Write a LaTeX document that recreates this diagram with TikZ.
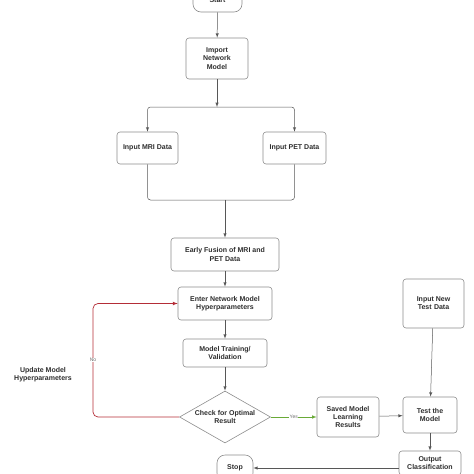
\documentclass[tikz,border=0pt]{standalone}
\usepackage{fontspec}
\setmainfont{Liberation Sans}
\usetikzlibrary{arrows,shapes.geometric}
\definecolor{boxline}{RGB}{140,140,140}
\definecolor{txt}{RGB}{45,45,45}
\definecolor{loopred}{RGB}{180,45,55}
\definecolor{yesgreen}{RGB}{105,170,55}

\begin{document}
\begin{tikzpicture}[x=1pt,y=-1pt]
\tikzstyle{every node}=[inner sep=1pt, font=\fontsize{7}{8.2}\selectfont\bfseries, text=txt]
\tikzstyle{box}=[draw=boxline, line width=0.6pt, rounded corners=3pt, align=center]
\tikzstyle{term}=[draw=boxline, line width=0.6pt, rounded corners=8pt]
\tikzstyle{arr}=[draw=txt!80, line width=0.5pt, -latex]
\tikzstyle{line}=[draw=txt!80, line width=0.5pt]
\useasboundingbox (0,0) rectangle (474,474);
\draw (217.5,0) node (start) [term, minimum width=49pt, minimum height=24pt] {Start};
\draw (217,58.5) node (import) [box, minimum width=62pt, minimum height=41pt] {Import\\Network\\Model};
\draw (147.5,148) node (mri) [box, minimum width=61pt, minimum height=32pt] {Input MRI Data};
\draw (294.5,148) node (pet) [box, minimum width=63pt, minimum height=32pt] {Input PET Data};
\draw (225,254.5) node (fusion) [box, minimum width=108pt, minimum height=33pt] {Early Fusion of MRI and\\PET Data};
\draw (225,303.5) node (enter) [box, minimum width=94pt, minimum height=33pt] {Enter Network Model\\Hyperparameters};
\draw (225,353) node (train) [box, minimum width=84pt, minimum height=28pt] {Model Training/\\Validation};
\draw (225,417) node (check) [draw=boxline, line width=0.6pt, diamond, inner sep=0pt, minimum width=91pt, minimum height=52pt,
  label={[align=center]center:Check for Optimal\\Result}] {};
\draw (348,417) node (saved) [box, minimum width=62pt, minimum height=40pt] {Saved Model\\Learning\\Results};
\draw (433.5,303.5) node (newdata) [box, minimum width=61pt, minimum height=49pt] {Input New\\Test\,\,Data};
\draw (430,415) node (test) [box, minimum width=54pt, minimum height=36pt] {Test the\\Model};
\draw (430,463) node (output) [box, minimum width=62pt, minimum height=24pt] {Output\\Classification};
\draw (235,468) node (stop) [term, minimum width=36pt, minimum height=26pt] {Stop};
\draw (43,375) node (update) [align=center] {Update Model\\Hyperparameters};
\coordinate (split) at (217,107);
\coordinate (join) at (225,200);
\coordinate (loopb) at (93,417);
\coordinate (loopt) at (93,303.5);
\draw[arr] (start) -- (import);
\draw[arr] (import) -- (split);
\draw[arr, rounded corners=3pt] (split) -| (mri);
\draw[arr, rounded corners=3pt] (split) -| (pet);
\draw[line, rounded corners=3pt] (mri) |- (join);
\draw[line, rounded corners=3pt] (pet) |- (join);
\draw[arr] (join) -- (fusion);
\draw[arr] (fusion) -- (enter);
\draw[arr] (enter) -- (train);
\draw[arr] (train) -- (check);
\draw[-latex, draw=yesgreen, line width=0.6pt] (check.east) -- node[fill=white, inner sep=0.5pt, font=\fontsize{5}{6}\selectfont, text=txt!70] {Yes} (saved);
\draw[arr] (saved) -- (test);
\draw[arr] (newdata) -- (test);
\draw[arr] (test.south) -- (test.south |- output.north);
\draw[arr] (output.west |- stop) -- (stop);
\draw[-latex, draw=loopred, line width=0.7pt, rounded corners=5pt] (check.west) -- (loopb) -- (loopt) -- (enter.west);
\draw (93,360) node (no) [fill=white, inner sep=0.5pt, font=\fontsize{5}{6}\selectfont, text=txt!70] {No};
\end{tikzpicture}
\end{document}
